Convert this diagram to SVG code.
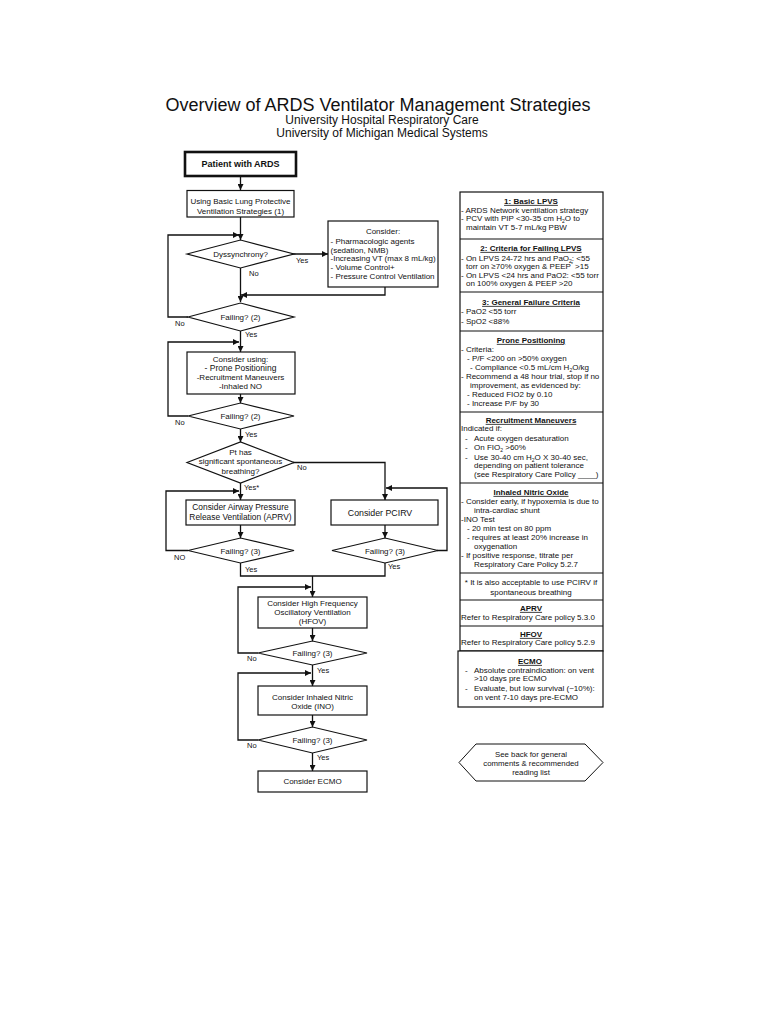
<svg xmlns="http://www.w3.org/2000/svg" width="768" height="1024" viewBox="0 0 768 1024">
<defs>
<marker id="ah" viewBox="0 0 10 10" refX="10" refY="5" markerWidth="6" markerHeight="6" orient="auto" markerUnits="userSpaceOnUse"><path d="M0,0 L10,5 L0,10 z" fill="#111"/></marker>
<style>
text{font-family:"Liberation Sans",Arial,sans-serif;fill:#111}
.t{font-size:8px}
.ts{font-size:8px}
.c{text-anchor:middle}
.p{font-size:8px}
.h{font-size:8px;font-weight:bold;text-decoration:underline;text-anchor:middle}
.lab{font-size:7.5px}
.box{fill:#fff;stroke:#111;stroke-width:1.2}
.con{fill:none;stroke:#111;stroke-width:1.3}
.sep{stroke:#111;stroke-width:1.2}
</style>
</defs>
<rect width="768" height="1024" fill="#fff"/>

<g id="title">
<text x="378" y="110.5" class="c" style="font-size:18px">Overview of ARDS Ventilator Management Strategies</text>
<text x="382" y="124" class="c" style="font-size:12px">University Hospital Respiratory Care</text>
<text x="382" y="136.5" class="c" style="font-size:12px">University of Michigan Medical Systems</text>
</g>

<g id="connectors">
<path class="con" d="M240.5,176 V190" marker-end="url(#ah)"/>
<path class="con" d="M240.5,217 V240" marker-end="url(#ah)"/>
<path class="con" d="M293,254 H328" marker-end="url(#ah)"/>
<path class="con" d="M240.5,268 V302" marker-end="url(#ah)"/>
<path class="con" d="M385,287 V295 H241" marker-end="url(#ah)"/>
<path class="con" d="M188,317 H168 V235 H239" marker-end="url(#ah)"/>
<path class="con" d="M240.5,331 V352" marker-end="url(#ah)"/>
<path class="con" d="M188,416 H168 V342 H239" marker-end="url(#ah)"/>
<path class="con" d="M240.5,394 V403" marker-end="url(#ah)"/>
<path class="con" d="M240.5,429 V442" marker-end="url(#ah)"/>
<path class="con" d="M240.5,483 V500" marker-end="url(#ah)"/>
<path class="con" d="M293,462.5 H385 V500" marker-end="url(#ah)"/>
<path class="con" d="M240.5,525 V538" marker-end="url(#ah)"/>
<path class="con" d="M188,550.5 H166 V491 H239" marker-end="url(#ah)"/>
<path class="con" d="M385,525 V538" marker-end="url(#ah)"/>
<path class="con" d="M437,550.5 H447 V488 H386" marker-end="url(#ah)"/>
<path class="con" d="M240.5,563 V576 H385 V563"/>
<path class="con" d="M312.5,576 V597" marker-end="url(#ah)"/>
<path class="con" d="M258,653 H238 V587 H311" marker-end="url(#ah)"/>
<path class="con" d="M312.5,628 V641" marker-end="url(#ah)"/>
<path class="con" d="M312.5,665 V686" marker-end="url(#ah)"/>
<path class="con" d="M258,740 H238 V673 H311" marker-end="url(#ah)"/>
<path class="con" d="M312.5,715 V727" marker-end="url(#ah)"/>
<path class="con" d="M312.5,753 V771" marker-end="url(#ah)"/>
<text class="lab" x="296" y="263">Yes</text>
<text class="lab" x="249" y="276">No</text>
<text class="lab" x="175" y="326">No</text>
<text class="lab" x="245" y="337">Yes</text>
<text class="lab" x="175" y="425">No</text>
<text class="lab" x="245" y="437">Yes</text>
<text class="lab" x="297" y="470">No</text>
<text class="lab" x="244" y="490">Yes*</text>
<text class="lab" x="174" y="560">NO</text>
<text class="lab" x="245" y="572">Yes</text>
<text class="lab" x="388" y="569">Yes</text>
<text class="lab" x="247" y="661">No</text>
<text class="lab" x="317" y="673">Yes</text>
<text class="lab" x="247" y="748">No</text>
<text class="lab" x="317" y="760">Yes</text>
</g>

<g id="n-patient">
<rect x="185" y="152" width="111" height="24" fill="#fff" stroke="#111" stroke-width="2.6"/>
<text x="240.5" y="167.2" class="c" style="font-size:9px;font-weight:bold">Patient with ARDS</text>
</g>
<g id="n-basic">
<rect class="box" x="187" y="190.5" width="107" height="26.5"/>
<text x="240.5" y="203.5" class="t c">Using Basic Lung Protective</text>
<text x="240.5" y="213.5" class="t c">Ventilation Strategies (1)</text>
</g>
<g id="n-dyssync">
<polygon class="box" points="187,254 240.5,240 294,254 240.5,268"/>
<text x="240.5" y="257" class="t c">Dyssynchrony?</text>
</g>
<g id="n-consider">
<rect class="box" x="328" y="221" width="110" height="66"/>
<text x="383" y="234" class="t c">Consider:</text>
<text x="330.5" y="243.5" class="t">- Pharmacologic agents</text>
<text x="330.5" y="252.5" class="t">(sedation, NMB)</text>
<text x="330.5" y="261" class="t">-Increasing VT (max 8 mL/kg)</text>
<text x="330.5" y="269.5" class="t">- Volume Control+</text>
<text x="330.5" y="279" class="t">- Pressure Control Ventilation</text>
</g>
<g id="n-fail1">
<polygon class="box" points="188,317 240.5,303 294,317 240.5,331"/>
<text x="240.5" y="320" class="t c">Failing? (2)</text>
</g>
<g id="n-using">
<rect class="box" x="187" y="352" width="108" height="42"/>
<text x="240.5" y="361.5" class="t c">Consider using:</text>
<text x="240.5" y="370.8" class="c" style="font-size:8.5px">- Prone Positioning</text>
<text x="240.5" y="379.8" class="t c">-Recruitment Maneuvers</text>
<text x="240.5" y="389.3" class="t c">-Inhaled NO</text>
</g>
<g id="n-fail2">
<polygon class="box" points="188,416 240.5,403 294,416 240.5,429"/>
<text x="240.5" y="419" class="t c">Failing? (2)</text>
</g>
<g id="n-spont">
<polygon class="box" points="187,462.5 240.5,442 294,462.5 240.5,483"/>
<text x="240.5" y="454.5" class="t c">Pt has</text>
<text x="240.5" y="464" class="t c">significant spontaneous</text>
<text x="240.5" y="473.5" class="t c">breathing?</text>
</g>
<g id="n-aprv">
<rect class="box" x="186" y="500" width="109" height="25"/>
<text x="240.5" y="509.7" class="c" style="font-size:8.4px">Consider Airway Pressure</text>
<text x="240.5" y="519.9" class="c" style="font-size:8.4px">Release Ventilation (APRV)</text>
</g>
<g id="n-fail3a">
<polygon class="box" points="188,550.5 240.5,538 294,550.5 240.5,563"/>
<text x="240.5" y="553.5" class="t c">Failing? (3)</text>
</g>
<g id="n-pcirv">
<rect class="box" x="331" y="500" width="107" height="25"/>
<text x="380" y="516" class="c" style="font-size:8.8px">Consider PCIRV</text>
</g>
<g id="n-fail3b">
<polygon class="box" points="332,550.5 385,538 438,550.5 385,563"/>
<text x="385" y="553.5" class="t c">Failing? (3)</text>
</g>
<g id="n-hfov">
<rect class="box" x="258" y="597" width="109" height="31"/>
<text x="312.5" y="605.7" class="ts c">Consider High Frequency</text>
<text x="312.5" y="614.7" class="ts c">Oscillatory Ventilation</text>
<text x="312.5" y="624.2" class="ts c">(HFOV)</text>
</g>
<g id="n-fail3c">
<polygon class="box" points="258,653 312.5,641 367,653 312.5,665"/>
<text x="312.5" y="656" class="t c">Failing? (3)</text>
</g>
<g id="n-ino">
<rect class="box" x="258" y="686" width="109" height="29"/>
<text x="312.5" y="699.7" class="ts c">Consider Inhaled Nitric</text>
<text x="312.5" y="708.7" class="ts c">Oxide (INO)</text>
</g>
<g id="n-fail3d">
<polygon class="box" points="258,740 312.5,727 367,740 312.5,753"/>
<text x="312.5" y="743" class="t c">Failing? (3)</text>
</g>
<g id="n-ecmo">
<rect class="box" x="258" y="771" width="109" height="21"/>
<text x="312.5" y="784.2" class="ts c">Consider ECMO</text>
</g>

<g id="panel">
<rect class="box" x="460" y="192" width="143" height="459"/>
<line class="sep" x1="460" y1="239" x2="603" y2="239"/>
<line class="sep" x1="460" y1="292" x2="603" y2="292"/>
<line class="sep" x1="460" y1="331" x2="603" y2="331"/>
<line class="sep" x1="460" y1="412" x2="603" y2="412"/>
<line class="sep" x1="460" y1="483" x2="603" y2="483"/>
<line class="sep" x1="460" y1="573" x2="603" y2="573"/>
<line class="sep" x1="460" y1="600" x2="603" y2="600"/>
<line class="sep" x1="460" y1="626" x2="603" y2="626"/>

<text x="531" y="203.9" class="h">1: Basic LPVS</text>
<text x="461" y="212.9" class="p">- ARDS Network ventilation strategy</text>
<text x="461" y="221.2" class="p">- PCV with PIP &lt;30-35 cm H<tspan font-size="5" dy="2">2</tspan><tspan dy="-2">O to</tspan></text>
<text x="466" y="229.9" class="p">maintain VT 5-7 mL/kg PBW</text>

<text x="531" y="250.9" class="h">2: Criteria for Failing LPVS</text>
<text x="461" y="260.9" class="p">- On LPVS 24-72 hrs and PaO<tspan font-size="5" dy="2">2</tspan><tspan dy="-2">: &lt;55</tspan></text>
<text x="466" y="268.9" class="p">torr on ≥70% oxygen &amp; PEEP<tspan font-size="5" dy="-3">*</tspan><tspan dy="3"> &gt;15</tspan></text>
<text x="461" y="277.9" class="p">- On LPVS &lt;24 hrs and PaO2: &lt;55 torr</text>
<text x="466" y="285.9" class="p">on 100% oxygen &amp; PEEP &gt;20</text>

<text x="531" y="304.9" class="h">3: General Failure Criteria</text>
<text x="461" y="313.9" class="p">- PaO2 &lt;55 torr</text>
<text x="461" y="323.9" class="p">- SpO2 &lt;88%</text>

<text x="531" y="342.9" class="h">Prone Positioning</text>
<text x="461" y="351.9" class="p">- Criteria:</text>
<text x="467" y="360.9" class="p">- P/F &lt;200 on &gt;50% oxygen</text>
<text x="470" y="369.9" class="p">- Compliance &lt;0.5 mL/cm H<tspan font-size="5" dy="2">2</tspan><tspan dy="-2">O/kg</tspan></text>
<text x="461" y="378.9" class="p">- Recommend a 48 hour trial, stop if no</text>
<text x="470" y="387.9" class="p">improvement, as evidenced by:</text>
<text x="467" y="396.9" class="p">- Reduced FIO2 by 0.10</text>
<text x="467" y="405.9" class="p">- Increase  P/F by 30</text>

<text x="531" y="422.9" class="h">Recruitment Maneuvers</text>
<text x="461" y="430.9" class="p">Indicated if:</text>
<text x="465" y="440.9" class="p">-</text><text x="474" y="440.9" class="p">Acute oxygen desaturation</text>
<text x="465" y="449.9" class="p">-</text><text x="474" y="449.9" class="p">On FIO<tspan font-size="5" dy="2">2</tspan><tspan dy="-2"> &gt;60%</tspan></text>
<text x="465" y="459.9" class="p">-</text><text x="474" y="459.9" class="p">Use 30-40 cm H<tspan font-size="5" dy="2">2</tspan><tspan dy="-2">O X 30-40 sec,</tspan></text>
<text x="474" y="467.9" class="p">depending on patient tolerance</text>
<text x="474" y="476.9" class="p">(see Respiratory Care Policy ____)</text>

<text x="531" y="494.9" class="h">Inhaled Nitric Oxide</text>
<text x="461" y="503.9" class="p">- Consider early, if hypoxemia is due to</text>
<text x="474" y="512.9" class="p">intra-cardiac shunt</text>
<text x="461" y="521.9" class="p">-INO Test</text>
<text x="467" y="530.9" class="p">- 20 min test on 80 ppm</text>
<text x="467" y="539.9" class="p">- requires at least 20% increase in</text>
<text x="474" y="548.9" class="p">oxygenation</text>
<text x="461" y="557.9" class="p">- If positive response, titrate per</text>
<text x="474" y="566.9" class="p">Respiratory Care Policy 5.2.7</text>

<text x="531" y="584.9" class="p c">* It is also acceptable to use PCIRV if</text>
<text x="531" y="594.9" class="p c">spontaneous breathing</text>

<text x="531" y="610.9" class="h">APRV</text>
<text x="528" y="619.9" class="p c">Refer to Respiratory Care policy 5.3.0</text>
<text x="531" y="636.9" class="h">HFOV</text>
<text x="528" y="644.9" class="p c">Refer to Respiratory Care policy 5.2.9</text>
</g>

<g id="n-ecmo-note">
<rect class="box" x="458" y="651" width="145" height="56"/>
<text x="530" y="663.9" class="h">ECMO</text>
<text x="465" y="672.9" class="p">-</text><text x="474" y="672.9" class="p">Absolute contraindication: on vent</text>
<text x="474" y="680.9" class="p">&gt;10 days pre ECMO</text>
<text x="465" y="690.9" class="p">-</text><text x="474" y="690.9" class="p">Evaluate, but low survival (~10%):</text>
<text x="474" y="699.9" class="p">on vent 7-10 days pre-ECMO</text>
</g>

<g id="n-seeback">
<polygon points="459,762.5 476,744 585,744 603,762.5 585,781 476,781" fill="#fff" stroke="#111" stroke-width="1"/>
<text x="531" y="756.7" class="c" style="font-size:7.8px">See back for general</text>
<text x="531" y="765.7" class="c" style="font-size:7.8px">comments &amp; recommended</text>
<text x="531" y="775.2" class="c" style="font-size:7.8px">reading list</text>
</g>
</svg>
